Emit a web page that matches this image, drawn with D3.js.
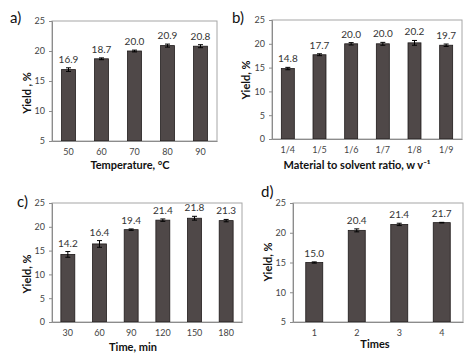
<!DOCTYPE html>
<html><head><meta charset="utf-8">
<script src="https://cdn.jsdelivr.net/npm/d3@7"></script>
<style>
body{margin:0;background:#fff;}
svg{display:block;font-family:Lato,"Open Sans",sans-serif;}
</style></head>
<body><svg id="c" width="474" height="354"></svg>
<script>
const catsA = ["50","60","70","80","90"];
const valsA = [16.9,18.7,20.0,20.9,20.8];
const errA  = [0.3,0.15,0.15,0.25,0.25];
const ticksA = [5,10,15,20,25];

const catsB = ["1/4","1/5","1/6","1/7","1/8","1/9"];
const valsB = [14.8,17.7,20.0,20.0,20.2,19.7];
const errB  = [0.25,0.2,0.25,0.3,0.5,0.25];
const ticksB = [0,5,10,15,20,25];

const catsC = ["30","60","90","120","150","180"];
const valsC = [14.2,16.4,19.4,21.4,21.8,21.3];
const errC  = [0.6,0.7,0.15,0.25,0.4,0.25];
const ticksC = [0,5,10,15,20,25];

const catsD = ["1","2","3","4"];
const valsD = [15.0,20.4,21.4,21.7];
const errD  = [0.1,0.25,0.2,0.05];
const ticksD = [5,10,15,20,25];

const svg = d3.select("#c");

function panel(o){
  const g = svg.append("g");
  const x = d3.scaleBand().domain(o.cats).range([o.x0,o.x1]).paddingInner(o.pad).paddingOuter(o.pad/2);
  const y = d3.scaleLinear().domain([o.ticks[0], o.ticks[o.ticks.length-1]]).range([o.y1,o.y0]);
  g.append("rect").attr("x",o.x0).attr("y",o.y0).attr("width",o.x1-o.x0).attr("height",o.y1-o.y0)
    .attr("fill","none").attr("stroke","#a6a6a6").attr("stroke-width",1);
  g.selectAll("rect.bar").data(o.vals).enter().append("rect").attr("class","bar")
    .attr("x",(d,i)=>x(o.cats[i])).attr("width",x.bandwidth())
    .attr("y",d=>y(d)).attr("height",d=>y(o.ticks[0])-y(d))
    .attr("fill","#4f4848").attr("stroke","#1e1a1a").attr("stroke-width",0.8);
  o.vals.forEach((d,i)=>{
    const cx = x(o.cats[i])+x.bandwidth()/2, e=o.err[i];
    g.append("line").attr("x1",cx).attr("x2",cx).attr("y1",y(d+e)).attr("y2",y(d-e)).attr("stroke","#000").attr("stroke-width",1);
    [d+e,d-e].forEach(v=>g.append("line").attr("x1",cx-2.5).attr("x2",cx+2.5).attr("y1",y(v)).attr("y2",y(v)).attr("stroke","#000").attr("stroke-width",1));
    g.append("text").attr("x",cx).attr("y",y(d+e)-5).attr("text-anchor","middle")
      .attr("font-size",10).attr("fill","#333").text(d.toFixed(1));
  });
  const ya = g.append("g").attr("transform",`translate(${o.x0},0)`)
    .call(d3.axisLeft(y).tickValues(o.ticks).tickSize(3).tickPadding(4));
  ya.select(".domain").attr("stroke","#8c8c8c");
  ya.selectAll(".tick line").attr("stroke","#8c8c8c");
  ya.selectAll("text").attr("font-size",9).attr("fill","#444").attr("font-family","Lato,sans-serif");
  const xa = g.append("g").attr("transform",`translate(0,${o.y1})`)
    .call(d3.axisBottom(x).tickSize(0).tickPadding(8));
  xa.select(".domain").attr("stroke","#8c8c8c");
  xa.selectAll("text").attr("font-size",9).attr("fill","#444").attr("font-family","Lato,sans-serif");
  g.append("text").attr("x",o.xtX).attr("y",o.xtY).attr("text-anchor","middle")
    .attr("font-size",11).attr("font-weight","bold").attr("fill","#111").text(o.xt);
  g.append("text").attr("transform",`translate(${o.ytX},${o.ytY}) rotate(-90)`).attr("text-anchor","middle")
    .attr("font-size",11).attr("font-weight","bold").attr("fill","#111").text(o.yt);
  g.append("text").attr("x",o.lX).attr("y",o.lY).attr("font-size",15).attr("fill","#111").text(o.lab);
}

panel({cats:catsA,vals:valsA,err:errA,ticks:ticksA,pad:0.58,x0:52,x1:217,y0:21,y1:141,
  xt:"Temperature, °C",xtX:130,xtY:169,yt:"Yield , %",ytX:31,ytY:93,lab:"a)",lX:10,lY:23});
panel({cats:catsB,vals:valsB,err:errB,ticks:ticksB,pad:0.59,x0:272,x1:462,y0:20,y1:139,
  xt:"Material to solvent ratio, w v\u207B\u00B9",xtX:357,xtY:169,yt:"Yield, %",ytX:250,ytY:80,lab:"b)",lX:232,lY:23});
panel({cats:catsC,vals:valsC,err:errC,ticks:ticksC,pad:0.56,x0:52,x1:242,y0:203,y1:322,
  xt:"Time, min",xtX:133,xtY:351,yt:"Yield, %",ytX:31,ytY:274,lab:"c)",lX:17,lY:207});
panel({cats:catsD,vals:valsD,err:errD,ticks:ticksD,pad:0.6,x0:293,x1:463,y0:203,y1:322,
  xt:"Times",xtX:375,xtY:348,yt:"Yield, %",ytX:272,ytY:262,lab:"d)",lX:261,lY:197});
</script></body></html>
